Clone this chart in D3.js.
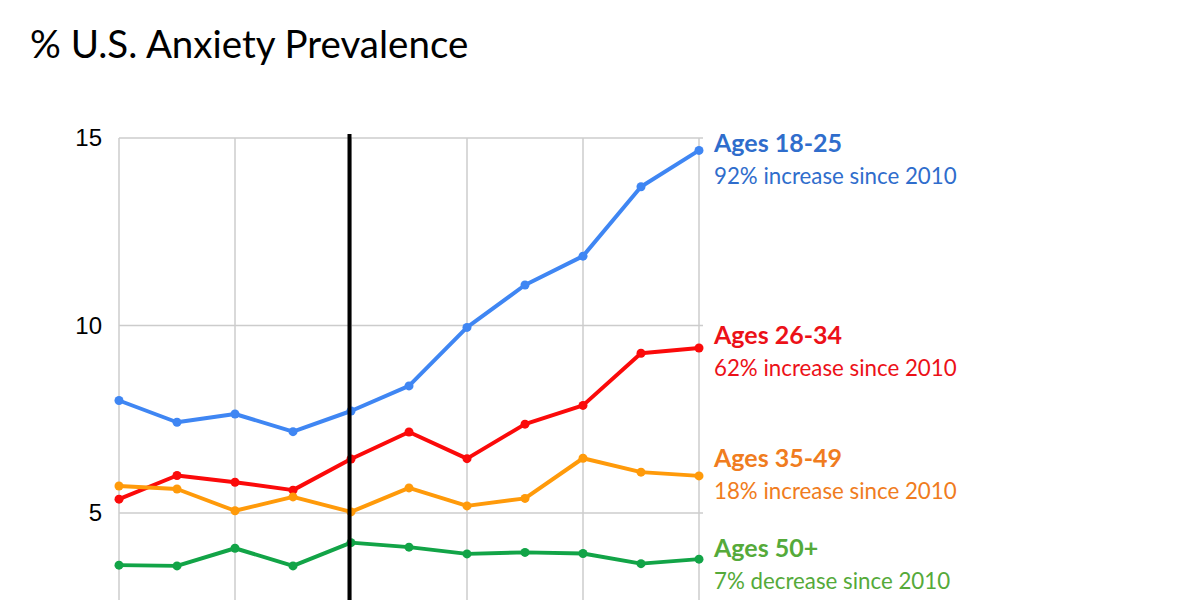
<!DOCTYPE html>
<html lang="en">
<head>
<meta charset="UTF-8">
<title>% U.S. Anxiety Prevalence</title>
<script src="https://d3js.org/d3.v7.min.js"></script>
<style>
    html, body { margin:0; padding:0; background:#fff; }
    svg { display:block; }
</style>
</head>
<body>
<div id="chart"></div>
<script>
    // data (x axis is cut off at the bottom)
    const years = [2008, 2009, 2010, 2011, 2012, 2013, 2014, 2015, 2016, 2017, 2018];
    const ages18to25 = [8.0, 7.42, 7.64, 7.17, 7.72, 8.39, 9.95, 11.08, 11.85, 13.70, 14.67];
    const ages26to34 = [5.37, 6.0, 5.82, 5.61, 6.44, 7.16, 6.45, 7.37, 7.87, 9.26, 9.40];
    const ages35to49 = [5.72, 5.64, 5.06, 5.43, 5.03, 5.67, 5.19, 5.39, 6.46, 6.09, 5.99];
    const ages50plus = [3.61, 3.59, 4.06, 3.59, 4.21, 4.09, 3.91, 3.95, 3.92, 3.65, 3.77];
    const yTicks = [5, 10, 15];
    const markerYear = 2012;

    const groups = ["Ages 18-25", "Ages 26-34", "Ages 35-49", "Ages 50+"];
    const notes = ["92% increase since 2010", "62% increase since 2010",
                   "18% increase since 2010", "7% decrease since 2010"];
    const lineColors = ["#3f86f3", "#fb0a0a", "#ff9a0a", "#12a447"];
    const textColors = ["#2f6dcc", "#ec1118", "#f07c20", "#55aa3a"];
    const values = [ages18to25, ages26to34, ages35to49, ages50plus];

    const width = 1200, height = 600;
    const svg = d3.select("#chart").append("svg")
        .attr("width", width).attr("height", height);

    svg.append("text")
        .attr("x", 30).attr("y", 58)
        .attr("font-family", "Lato, 'Open Sans', sans-serif")
        .attr("font-size", 38.5)
        .attr("fill", "#000")
        .text("% U.S. Anxiety Prevalence");

    const xScale = d3.scalePoint().domain(years).range([119, 699]);
    const yScale = d3.scaleLinear().domain([5, 15]).range([513, 138]);

    // grid
    const grid = svg.append("g").attr("stroke", "#cccccc").attr("stroke-width", 1.5);
    grid.selectAll("line.h").data(yTicks).join("line")
        .attr("x1", 119).attr("x2", 703)
        .attr("y1", d => yScale(d)).attr("y2", d => yScale(d));
    grid.selectAll("line.v").data(years.filter((d, i) => i % 2 === 0)).join("line")
        .attr("x1", d => xScale(d)).attr("x2", d => xScale(d))
        .attr("y1", yScale(15)).attr("y2", height);

    // y axis labels
    const yAxis = svg.append("g").attr("transform", "translate(102,0)")
        .call(d3.axisLeft(yScale).tickValues(yTicks).tickSize(0).tickPadding(0));
    yAxis.select(".domain").remove();
    yAxis.selectAll("text")
        .attr("font-family", "Liberation Sans, Arial, sans-serif")
        .attr("font-size", 24)
        .attr("fill", "#000");

    // lines and points
    const line = d3.line().x((d, i) => xScale(years[i])).y(d => yScale(d));
    values.forEach((vals, k) => {
        svg.append("path")
            .attr("d", line(vals))
            .attr("fill", "none")
            .attr("stroke", lineColors[k])
            .attr("stroke-width", 4)
            .attr("stroke-linejoin", "round");
        svg.append("g").selectAll("circle").data(vals).join("circle")
            .attr("cx", (d, i) => xScale(years[i]))
            .attr("cy", d => yScale(d))
            .attr("r", 4.5)
            .attr("fill", lineColors[k]);
    });

    // black marker line
    svg.append("line")
        .attr("x1", xScale(markerYear) - 1.5).attr("x2", xScale(markerYear) - 1.5)
        .attr("y1", 134).attr("y2", height)
        .attr("stroke", "#000").attr("stroke-width", 4);

    // right-hand labels
    const labelY = [152, 344, 467, 557];
    const labels = svg.append("g").attr("font-family", "Lato, 'Open Sans', sans-serif");
    groups.forEach((g, k) => {
        labels.append("text")
            .attr("x", 714).attr("y", labelY[k])
            .attr("font-size", 25).attr("font-weight", "bold")
            .attr("fill", textColors[k])
            .text(g);
        labels.append("text")
            .attr("x", 714).attr("y", labelY[k] + 32)
            .attr("font-size", 22.3)
            .attr("fill", textColors[k])
            .text(notes[k]);
    });
</script>
</body>
</html>
